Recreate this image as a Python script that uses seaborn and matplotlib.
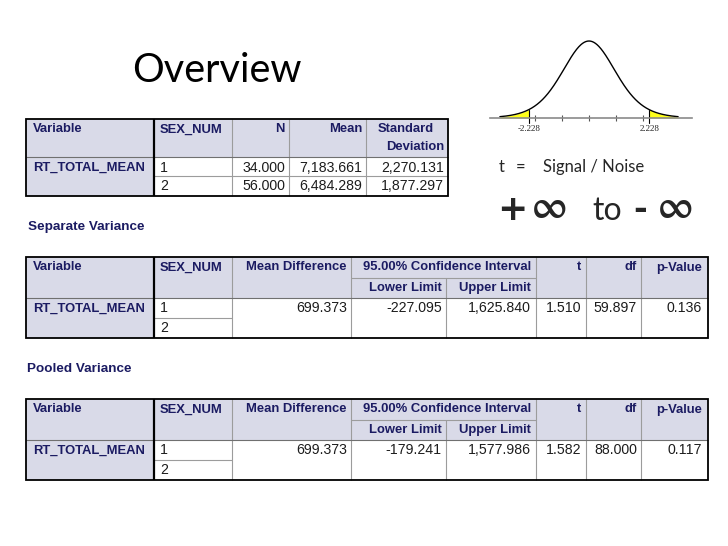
import math
import numpy as np
import pandas as pd
import matplotlib
matplotlib.use("Agg")
import matplotlib.pyplot as plt
import seaborn as sns
from matplotlib.patches import Rectangle

sns.set_theme(style="white")
plt.rcParams["font.family"] = ["Liberation Sans", "DejaVu Sans"]

# ---------------- data ----------------
title_text = "Overview"
variable_name = "RT_TOTAL_MEAN"
sex_levels = ["1", "2"]

stats_headers = ["Variable", "SEX_NUM", "N", "Mean"]
sd_header = ["Standard", "Deviation"]
n_values = ["34.000", "56.000"]
mean_values = ["7,183.661", "6,484.289"]
sd_values = ["2,270.131", "1,877.297"]

ttest_headers = ["Variable", "SEX_NUM", "Mean Difference", "95.00% Confidence Interval", "t", "df", "p-Value"]
ci_headers = ["Lower Limit", "Upper Limit"]

separate_label = "Separate Variance"
separate_row = ["699.373", "-227.095", "1,625.840", "1.510", "59.897", "0.136"]

pooled_label = "Pooled Variance"
pooled_row = ["699.373", "-179.241", "1,577.986", "1.582", "88.000", "0.117"]

crit_value = 2.228
crit_labels = ["-2.228", "2.228"]
dist_df = 10
axis_ticks = [-2, -1, 0, 1, 2]

formula_text = ["t", "=", "Signal / Noise"]

# ---------------- styles ----------------
W, H = 728, 546
HDR_FILL = "#d9dae8"
NAVY = "#1b1b62"
NUMC = "#1c1c1c"
GRID = "#9c9c9c"
HFS = 9.4     # header font size
NFS = 10.2    # number font size

fig = plt.figure(figsize=(W / 100, H / 100), dpi=100)
fig.patch.set_facecolor("white")
ax = fig.add_axes([0, 0, 1, 1])
ax.set_xlim(0, W)
ax.set_ylim(H, 0)
ax.axis("off")


def hline(y, x0, x1, color=GRID, lw=0.8):
    ax.plot([x0, x1], [y, y], color=color, lw=lw, solid_capstyle="butt", zorder=3)


def vline(x, y0, y1, color=GRID, lw=0.8):
    ax.plot([x, x], [y0, y1], color=color, lw=lw, solid_capstyle="butt", zorder=3)


def fill(x0, y0, x1, y1):
    ax.add_patch(Rectangle((x0, y0), x1 - x0, y1 - y0, facecolor=HDR_FILL, edgecolor="none", zorder=1))


def htext(x, y, s, ha="left"):
    ax.text(x, y, s, ha=ha, va="center", fontsize=HFS, fontweight="bold", color=NAVY, zorder=4)


def ntext(x, y, s, ha="right"):
    ax.text(x, y, s, ha=ha, va="center", fontsize=NFS, color=NUMC, zorder=4)


# ---------------- title ----------------
ax.text(132, 70, title_text, ha="left", va="center", fontsize=28.5, family=["Lato", "DejaVu Sans"], color="black")

# ---------------- table 1 ----------------
c1 = [26, 154, 232, 289, 366, 448]
r1 = [119, 157, 176, 196]
fill(c1[0], r1[0], c1[-1], r1[1])
fill(c1[0], r1[1], c1[1], r1[3])
for x in c1[2:-1]:
    vline(x, r1[0], r1[3])
hline(r1[1], c1[0], c1[-1], color="#707070")
hline(r1[2], c1[1], c1[-1])
vline(c1[1], r1[0], r1[3], color="black", lw=1.6)
ax.add_patch(Rectangle((c1[0], r1[0]), c1[-1] - c1[0], r1[3] - r1[0], facecolor="none",
                       edgecolor="black", lw=1.3, zorder=5))
htext(c1[0] + 7, 129.5, stats_headers[0])
htext(c1[1] + 6, 129.5, stats_headers[1])
htext(c1[3] - 4, 129.5, stats_headers[2], ha="right")
htext(c1[4] - 4, 129.5, stats_headers[3], ha="right")
htext(c1[5] - 14, 129.5, sd_header[0], ha="right")
htext(c1[5] - 4, 146.5, sd_header[1], ha="right")
htext(c1[0] + 7, 167.5, variable_name)
row_y1 = [167.5, 186.5]
for i, lvl in enumerate(sex_levels):
    ntext(c1[1] + 6, row_y1[i], lvl, ha="left")
    ntext(c1[3] - 4, row_y1[i], n_values[i])
    ntext(c1[4] - 4, row_y1[i], mean_values[i])
    ntext(c1[5] - 4, row_y1[i], sd_values[i])


# ---------------- t-test tables ----------------
def ttest_table(top, values):
    c = [26, 154, 232, 351, 446, 536, 586, 641, 708]
    r = [top, top + 21, top + 41, top + 61, top + 81]
    fill(c[0], r[0], c[-1], r[2])
    fill(c[0], r[2], c[1], r[4])
    for x in [c[2], c[3], c[5], c[6], c[7]]:
        vline(x, r[0], r[4])
    vline(c[4], r[1], r[4])
    hline(r[1], c[3], c[5])
    hline(r[2], c[0], c[-1], color="#707070")
    hline(r[3], c[1], c[2])
    vline(c[1], r[0], r[4], color="black", lw=1.6)
    ax.add_patch(Rectangle((c[0], r[0]), c[-1] - c[0], r[4] - r[0], facecolor="none",
                           edgecolor="black", lw=1.3, zorder=5))
    y_h, y_s, y_1, y_2 = top + 10.5, top + 31, top + 51.5, top + 71.5
    htext(c[0] + 7, y_h, ttest_headers[0])
    htext(c[1] + 6, y_h, ttest_headers[1])
    htext(c[3] - 4, y_h, ttest_headers[2], ha="right")
    htext(c[5] - 5, y_h, ttest_headers[3], ha="right")
    htext(c[6] - 5, y_h, ttest_headers[4], ha="right")
    htext(c[7] - 4, y_h, ttest_headers[5], ha="right")
    htext(c[8] - 6, y_h, ttest_headers[6], ha="right")
    htext(c[4] - 4, y_s, ci_headers[0], ha="right")
    htext(c[5] - 5, y_s, ci_headers[1], ha="right")
    htext(c[0] + 7, y_1, variable_name)
    ntext(c[1] + 6, y_1, sex_levels[0], ha="left")
    ntext(c[1] + 6, y_2, sex_levels[1], ha="left")
    rights = [c[3] - 4, c[4] - 4, c[5] - 5, c[6] - 5, c[7] - 4, c[8] - 6]
    for xr, v in zip(rights, values):
        ntext(xr, y_1, v)


ax.text(28, 227, separate_label, ha="left", va="center", fontsize=9.7, fontweight="bold", color=NAVY)
ttest_table(257, separate_row)
ax.text(27, 369, pooled_label, ha="left", va="center", fontsize=9.7, fontweight="bold", color=NAVY)
ttest_table(399, pooled_row)

# ---------------- formula text ----------------
ax.text(499, 167, formula_text[0], ha="left", va="center", fontsize=12, family=["Lato", "DejaVu Sans"])
ax.text(516, 167, formula_text[1], ha="left", va="center", fontsize=12, family=["Lato", "DejaVu Sans"])
ax.text(543, 167, formula_text[2], ha="left", va="center", fontsize=12, family=["Lato", "DejaVu Sans"])
ax.text(497, 210, "+", ha="left", va="center", fontsize=26, fontweight="bold", family=["DejaVu Sans"])
ax.text(531, 208, "\u221e", ha="left", va="center", fontsize=28, fontweight="bold",
        family=["STIXGeneral", "DejaVu Sans"])
ax.text(592, 211, "to", ha="left", va="center", fontsize=23, family=["Lato", "DejaVu Sans"])
ax.text(633, 210, "-", ha="left", va="center", fontsize=24, fontweight="bold", family=["DejaVu Sans"])
ax.text(657, 208, "\u221e", ha="left", va="center", fontsize=28, fontweight="bold",
        family=["STIXGeneral", "DejaVu Sans"])

# ---------------- t distribution sketch ----------------
t_grid = np.linspace(-3.3, 3.3, 331)
coef = math.gamma((dist_df + 1) / 2) / (math.sqrt(dist_df * math.pi) * math.gamma(dist_df / 2))
density = coef * (1 + t_grid ** 2 / dist_df) ** (-(dist_df + 1) / 2)
curve = pd.DataFrame({"t": t_grid, "density": density})
peak = coef

ax2 = fig.add_axes([490 / W, 1 - 118 / H, 202 / W, 78 / H])
ax2.set_facecolor("none")
sns.lineplot(data=curve, x="t", y="density", ax=ax2, color="black", lw=1.0)
left_tail = curve[curve["t"] <= -crit_value]
right_tail = curve[curve["t"] >= crit_value]
ax2.fill_between(left_tail["t"], 0, left_tail["density"], color="#ffff1a", lw=0)
ax2.fill_between(right_tail["t"], 0, right_tail["density"], color="#ffff1a", lw=0)
d_crit = coef * (1 + crit_value ** 2 / dist_df) ** (-(dist_df + 1) / 2)
for cv in (-crit_value, crit_value):
    ax2.plot([cv, cv], [-0.06 * peak, d_crit], color="black", lw=0.8, clip_on=False)
ax2.set_xlim((490 - 589) / 27, (692 - 589) / 27)
ax2.set_ylim(0, peak * 78 / 77)
ax2.set_xticks(axis_ticks)
ax2.set_xticklabels([""] * len(axis_ticks))
ax2.set_yticks([])
ax2.tick_params(axis="x", direction="inout", length=5, width=0.8, color="#555555", bottom=True)
for s in ("top", "left", "right"):
    ax2.spines[s].set_visible(False)
ax2.spines["bottom"].set_color("#8a8a8a")
ax2.spines["bottom"].set_linewidth(1.2)
ax2.set_xlabel("")
ax2.set_ylabel("")
for cv, lab in zip((-crit_value, crit_value), crit_labels):
    ax2.text(cv, -0.14 * peak, lab, ha="center", va="center", fontsize=6.5,
             family=["Liberation Serif", "DejaVu Serif"], color="#222222")

fig.savefig("out.png", dpi=100, facecolor="white")
